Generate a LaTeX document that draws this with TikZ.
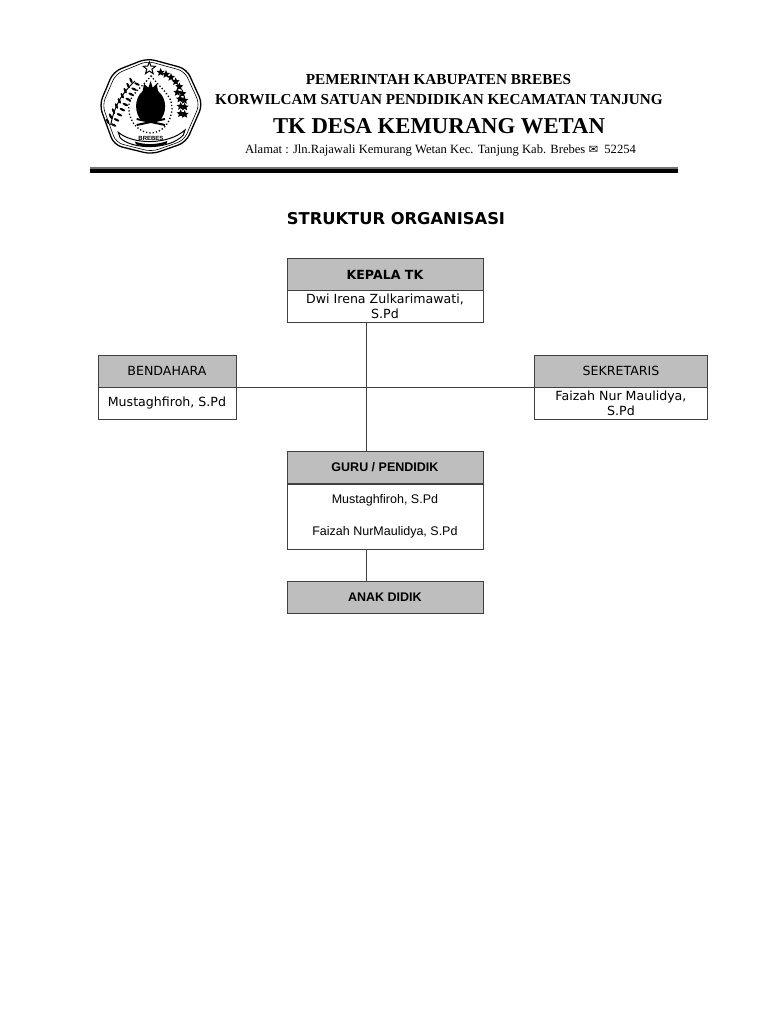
\documentclass[tikz,border=0pt]{standalone}
\usepackage{fontspec}
\usetikzlibrary{shapes.geometric}
\setmainfont{Liberation Serif}
\newfontfamily\dejavu{DejaVu Sans}
\newfontfamily\libsans{Liberation Sans}
\definecolor{headgray}{HTML}{BEBEBE}
\definecolor{inkline}{HTML}{404040}
\tikzset{
  boxbase/.style={draw=inkline,line width=0.9pt,minimum width=#1,inner sep=0pt,align=center,text=black,anchor=north west},
  headbox/.style={boxbase=#1,fill=headgray,minimum height=32pt},
  bodybox/.style={boxbase=#1,fill=white,minimum height=32pt},
  dv/.style={font=\dejavu\fontsize{12.6}{15}\selectfont},
  dvb/.style={font=\dejavu\bfseries\fontsize{12.6}{15}\selectfont},
  ls/.style={font=\libsans\fontsize{12.5}{14}\selectfont},
  lsb/.style={font=\libsans\bfseries\fontsize{12.5}{14}\selectfont},
  link/.style={draw=inkline,line width=0.9pt},
  title/.style={inner sep=0pt,text=black},
}
\begin{document}
\begin{tikzpicture}[x=1pt,y=-1pt]
\useasboundingbox (0,0) rectangle (768,1024);
\fill[white] (0,0) rectangle (768,1024);
% crest
\begin{scope}[shift={(90,45)},scale=1/3]
  \draw[black,line width=1.3pt,fill=white,rounded corners=8pt]
    (172,40) -- (290,72) -- (338,178) -- (288,292) -- (185,328) -- (72,300) -- (28,180) -- (70,80) -- cycle;
  \draw[black,line width=0.6pt,rounded corners=7pt]
    (172,48) -- (284,79) -- (329,178) -- (282,286) -- (185,320) -- (78,293) -- (37,180) -- (77,87) -- cycle;
  % star
  \node[star,star points=5,star point ratio=2.4,draw=black,line width=1pt,fill=white,minimum size=13pt,inner sep=0pt] (crstar) at (178,70) {};
  % ring
  \draw[black,line width=1.3pt,dotted] (183,92) .. controls (205,125) and (248,150) .. (246,190)
     .. controls (244,240) and (210,264) .. (183,264) .. controls (150,264) and (118,235) .. (116,190)
     .. controls (114,150) and (160,125) .. (183,92) -- cycle;
  % flame
  \fill[black] (182,108) -- (188,128) -- (200,116) -- (204,138) .. controls (232,160) and (232,205) .. (208,228)
     -- (156,228) .. controls (132,205) and (132,160) .. (158,138) -- (162,116) -- (175,128) -- cycle;
  \draw[black,line width=2pt] (140,240) -- (225,222) (140,222) -- (225,240);
  % rice stalk
  \draw[black,line width=1pt] (62,240) .. controls (72,190) and (90,150) .. (135,108);
  \foreach \p in {0.0,0.12,0.24,0.36,0.48,0.6,0.72,0.84,0.96}{
    \pgfmathsetmacro{\lx}{62+\p*73}
    \pgfmathsetmacro{\ly}{236-\p*128}
    \fill[black] ({\lx-9},{\ly-7}) ellipse [x radius=9pt,y radius=3.5pt,rotate=-65];
    \fill[black] ({\lx+9},{\ly+4}) ellipse [x radius=9pt,y radius=3.5pt,rotate=-25];
  }
  % right stars
  \foreach \sx/\sy [count=\n] in {212/82,228/88,243/97,257/110,268/125,262/142,277/146,270/162,283/166,272/184,284/186,272/206,284/208}{
    \node[star,star points=5,star point ratio=2.2,fill=black,minimum size=8.5pt,inner sep=0pt] (crs\n) at (\sx,\sy) {};
  }
  % ribbon
  \draw[black,line width=1pt,fill=white] (85,262) .. controls (130,300) and (235,300) .. (285,255) -- (280,270) .. controls (240,315) and (125,315) .. (90,278) -- cycle;
  \fill[black] (135,290) .. controls (165,300) and (200,300) .. (232,288) -- (230,296) .. controls (200,308) and (165,308) .. (138,298) -- cycle;
  \node[font=\libsans\bfseries\fontsize{6}{6}\selectfont,inner sep=0pt] (crname) at (183,279) {BREBES};
\end{scope}
% letterhead
\node[title,font=\bfseries\fontsize{15.25}{17}\selectfont] (t1) at (438.5,79.5) {PEMERINTAH KABUPATEN BREBES};
\node[title,font=\bfseries\fontsize{15.2}{17}\selectfont] (t2) at (439,100) {KORWILCAM SATUAN PENDIDIKAN KECAMATAN TANJUNG};
\node[title,font=\bfseries\fontsize{22.7}{25}\selectfont] (t3) at (439,126) {TK DESA KEMURANG WETAN};
\node[title,font=\fontsize{12.6}{14}\selectfont] (t4) at (440.5,150) {Alamat : Jln.Rajawali Kemurang Wetan Kec. Tanjung Kab. Brebes {\dejavu\fontsize{11.5}{12}\selectfont ✉}\ \ 52254};
\fill[black!55] (90,166.8) rectangle (678,168.6);
\fill[black] (90,169.4) rectangle (678,172.8);
\node[title,font=\dejavu\bfseries\fontsize{16.3}{18}\selectfont] (heading) at (396,218.5) {STRUKTUR ORGANISASI};
% boxes
\node[headbox=196pt,dvb] (kh) at (286.5,258) {KEPALA TK};
\node[bodybox=196pt,dv] (kb) at (286.5,290) {Dwi Irena Zulkarimawati,\\S.Pd};
\node[headbox=138pt,dv] (bh) at (97.5,354.5) {BENDAHARA};
\node[bodybox=138pt,dv] (bb) at (97.5,386.5) {Mustaghfiroh, S.Pd};
\node[headbox=173pt,dv] (sh) at (534,354.5) {SEKRETARIS};
\node[bodybox=173pt,dv] (sb) at (534,386.5) {Faizah Nur Maulidya,\\S.Pd};
\node[headbox=196pt,lsb] (gh) at (286.5,451) {GURU / PENDIDIK};
\node[bodybox=196pt,ls,minimum height=65pt] (gb) at (286.5,483.5) {Mustaghfiroh, S.Pd\\[18pt]Faizah NurMaulidya, S.Pd};
\node[headbox=196pt,lsb] (ad) at (286.5,580.5) {ANAK DIDIK};
% connectors
\coordinate (trunk) at (366.7,387);
\draw[link] (kb.south -| trunk) -- (gh.north -| trunk);
\draw[link] (bh.south east) -- (sh.south west);
\draw[link] (gb.south -| trunk) -- (ad.north -| trunk);
\end{tikzpicture}
\end{document}
